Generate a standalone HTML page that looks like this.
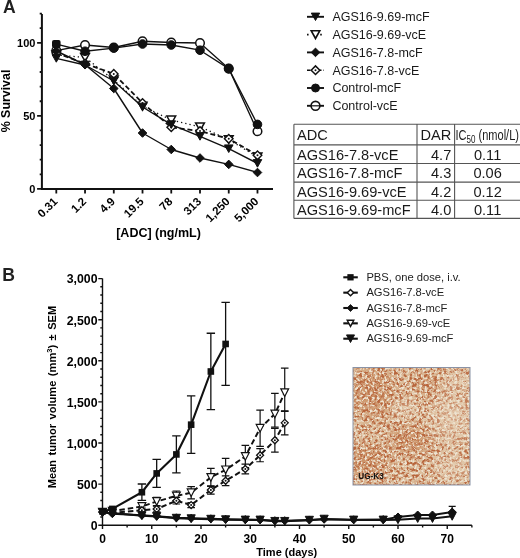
<!DOCTYPE html>
<html lang="en"><head><meta charset="utf-8"><title>Figure</title>
<style>html,body{margin:0;padding:0;background:#fff}body{width:520px;height:558px;position:relative;overflow:hidden;font-family:"Liberation Sans",sans-serif}</style></head>
<body>
<svg width="520" height="558" viewBox="0 0 520 558" style="position:absolute;left:0;top:0">
<defs><filter id="tex" x="0" y="0" width="100%" height="100%" color-interpolation-filters="sRGB"><feTurbulence type="fractalNoise" baseFrequency="0.32" numOctaves="3" seed="11" result="n"/><feColorMatrix in="n" type="matrix" values="0 0 0 0 0.72  0 0 0 0 0.40  0 0 0 0 0.24  4.6 0 0 0 -2.0"/></filter><filter id="texw" x="0" y="0" width="100%" height="100%" color-interpolation-filters="sRGB"><feTurbulence type="fractalNoise" baseFrequency="0.4" numOctaves="3" seed="29" result="n"/><feColorMatrix in="n" type="matrix" values="0 0 0 0 0.93  0 0 0 0 0.89  0 0 0 0 0.82  0 4.4 0 0 -2.1"/></filter><radialGradient id="b1"><stop offset="0" stop-color="#c27a4b" stop-opacity="0.75"/><stop offset="1" stop-color="#c47a45" stop-opacity="0"/></radialGradient><radialGradient id="w1"><stop offset="0" stop-color="#eedfc8" stop-opacity="0.95"/><stop offset="1" stop-color="#efe2cf" stop-opacity="0"/></radialGradient><clipPath id="ic"><rect x="353" y="367.5" width="117" height="117.5"/></clipPath></defs>
<text x="2.9" y="13.3" font-family='"Liberation Sans", sans-serif' font-weight="bold" font-size="17.6" fill="#222">A</text>
<path d="M41.9 14V188.9H273" fill="none" stroke="#111" stroke-width="2" stroke-linejoin="miter"/>
<path d="M37.1 188.90H41.9M39.699999999999996 174.29H41.9M39.699999999999996 159.68H41.9M39.699999999999996 145.07H41.9M39.699999999999996 130.46H41.9M37.1 115.85H41.9M39.699999999999996 101.24H41.9M39.699999999999996 86.63H41.9M39.699999999999996 72.02H41.9M39.699999999999996 57.41H41.9M37.1 42.80H41.9M39.699999999999996 28.19H41.9M39.699999999999996 13.58H41.9M56.30 188.9v4.6M85.04 188.9v4.6M113.78 188.9v4.6M142.52 188.9v4.6M171.26 188.9v4.6M200.00 188.9v4.6M228.74 188.9v4.6M257.48 188.9v4.6" fill="none" stroke="#111" stroke-width="1.8"/>
<text x="35.4" y="192.60" text-anchor="end" font-family='"Liberation Sans", sans-serif' font-weight="bold" font-size="11">0</text>
<text x="35.4" y="119.55" text-anchor="end" font-family='"Liberation Sans", sans-serif' font-weight="bold" font-size="11">50</text>
<text x="35.4" y="46.50" text-anchor="end" font-family='"Liberation Sans", sans-serif' font-weight="bold" font-size="11">100</text>
<text transform="translate(58.20 202.30) rotate(-45)" text-anchor="end" font-family='"Liberation Sans", sans-serif' font-weight="bold" font-size="11.5">0.31</text>
<text transform="translate(86.94 202.30) rotate(-45)" text-anchor="end" font-family='"Liberation Sans", sans-serif' font-weight="bold" font-size="11.5">1.2</text>
<text transform="translate(115.68 202.30) rotate(-45)" text-anchor="end" font-family='"Liberation Sans", sans-serif' font-weight="bold" font-size="11.5">4.9</text>
<text transform="translate(144.42 202.30) rotate(-45)" text-anchor="end" font-family='"Liberation Sans", sans-serif' font-weight="bold" font-size="11.5">19.5</text>
<text transform="translate(173.16 202.30) rotate(-45)" text-anchor="end" font-family='"Liberation Sans", sans-serif' font-weight="bold" font-size="11.5">78</text>
<text transform="translate(201.90 202.30) rotate(-45)" text-anchor="end" font-family='"Liberation Sans", sans-serif' font-weight="bold" font-size="11.5">313</text>
<text transform="translate(230.64 202.30) rotate(-45)" text-anchor="end" font-family='"Liberation Sans", sans-serif' font-weight="bold" font-size="11.5">1,250</text>
<text transform="translate(259.38 202.30) rotate(-45)" text-anchor="end" font-family='"Liberation Sans", sans-serif' font-weight="bold" font-size="11.5">5,000</text>
<text x="116.2" y="236.6" font-family='"Liberation Sans", sans-serif' font-weight="bold" font-size="12.5">[ADC] (ng/mL)</text>
<text transform="translate(10.3 101) rotate(-90)" text-anchor="middle" font-family='"Liberation Sans", sans-serif' font-weight="bold" font-size="12.4">% Survival</text>
<polyline points="56.30,55.00 85.04,57.40 113.78,80.00 142.52,106.20 171.26,120.00 200.00,126.80 228.74,139.60 257.48,157.00" fill="none" stroke="#111" stroke-width="1.3" stroke-dasharray="1.3 3" stroke-linecap="butt" stroke-linejoin="round"/>
<polyline points="56.30,53.00 85.04,63.50 113.78,73.90 142.52,103.00 171.26,127.30 200.00,131.00 228.74,138.75 257.48,155.20" fill="none" stroke="#111" stroke-width="1.8" stroke-dasharray="5 2.8" stroke-linecap="butt" stroke-linejoin="round"/>
<polyline points="56.30,58.40 85.04,65.00 113.78,81.00 142.52,107.00 171.26,124.60 200.00,136.40 228.74,148.70 257.48,163.40" fill="none" stroke="#111" stroke-width="1.4" stroke-linecap="butt" stroke-linejoin="round"/>
<polyline points="56.30,51.00 85.04,64.75 113.78,88.50 142.52,133.00 171.26,149.50 200.00,158.00 228.74,164.40 257.48,172.50" fill="none" stroke="#111" stroke-width="1.4" stroke-linecap="butt" stroke-linejoin="round"/>
<polyline points="56.30,50.60 85.04,45.00 113.78,47.50 142.52,41.25 171.26,42.50 200.00,43.00 228.74,68.60 257.48,131.30" fill="none" stroke="#111" stroke-width="1.3" stroke-linecap="butt" stroke-linejoin="round"/>
<polyline points="56.30,44.10 85.04,51.25 113.78,48.10 142.52,44.00 171.26,45.00 200.00,50.20 228.74,68.60 257.48,124.40" fill="none" stroke="#111" stroke-width="1.3" stroke-linecap="butt" stroke-linejoin="round"/>
<circle cx="56.30" cy="50.60" r="4.3" fill="#fff" stroke="#111" stroke-width="1.5"/>
<circle cx="85.04" cy="45.00" r="4.3" fill="#fff" stroke="#111" stroke-width="1.5"/>
<circle cx="113.78" cy="47.50" r="4.3" fill="#fff" stroke="#111" stroke-width="1.5"/>
<circle cx="142.52" cy="41.25" r="4.3" fill="#fff" stroke="#111" stroke-width="1.5"/>
<circle cx="171.26" cy="42.50" r="4.3" fill="#fff" stroke="#111" stroke-width="1.5"/>
<circle cx="200.00" cy="43.00" r="4.3" fill="#fff" stroke="#111" stroke-width="1.5"/>
<circle cx="228.74" cy="68.60" r="4.3" fill="#fff" stroke="#111" stroke-width="1.5"/>
<circle cx="257.48" cy="131.30" r="4.3" fill="#fff" stroke="#111" stroke-width="1.5"/>
<path d="M51.90 51.10H60.70L56.30 58.90Z" fill="#fff" stroke="#111" stroke-width="1.5" stroke-linejoin="miter"/>
<path d="M80.64 53.50H89.44L85.04 61.30Z" fill="#fff" stroke="#111" stroke-width="1.5" stroke-linejoin="miter"/>
<path d="M109.38 76.10H118.18L113.78 83.90Z" fill="#fff" stroke="#111" stroke-width="1.5" stroke-linejoin="miter"/>
<path d="M138.12 102.30H146.92L142.52 110.10Z" fill="#fff" stroke="#111" stroke-width="1.5" stroke-linejoin="miter"/>
<path d="M166.86 116.10H175.66L171.26 123.90Z" fill="#fff" stroke="#111" stroke-width="1.5" stroke-linejoin="miter"/>
<path d="M195.60 122.90H204.40L200.00 130.70Z" fill="#fff" stroke="#111" stroke-width="1.5" stroke-linejoin="miter"/>
<path d="M224.34 135.70H233.14L228.74 143.50Z" fill="#fff" stroke="#111" stroke-width="1.5" stroke-linejoin="miter"/>
<path d="M253.08 153.10H261.88L257.48 160.90Z" fill="#fff" stroke="#111" stroke-width="1.5" stroke-linejoin="miter"/>
<path d="M52.00 53.00L56.30 48.70L60.60 53.00L56.30 57.30Z" fill="#fff" stroke="#111" stroke-width="1.4"/><circle cx="56.30" cy="53.00" r="1" fill="#111"/>
<path d="M80.74 63.50L85.04 59.20L89.34 63.50L85.04 67.80Z" fill="#fff" stroke="#111" stroke-width="1.4"/><circle cx="85.04" cy="63.50" r="1" fill="#111"/>
<path d="M109.48 73.90L113.78 69.60L118.08 73.90L113.78 78.20Z" fill="#fff" stroke="#111" stroke-width="1.4"/><circle cx="113.78" cy="73.90" r="1" fill="#111"/>
<path d="M138.22 103.00L142.52 98.70L146.82 103.00L142.52 107.30Z" fill="#fff" stroke="#111" stroke-width="1.4"/><circle cx="142.52" cy="103.00" r="1" fill="#111"/>
<path d="M166.96 127.30L171.26 123.00L175.56 127.30L171.26 131.60Z" fill="#fff" stroke="#111" stroke-width="1.4"/><circle cx="171.26" cy="127.30" r="1" fill="#111"/>
<path d="M195.70 131.00L200.00 126.70L204.30 131.00L200.00 135.30Z" fill="#fff" stroke="#111" stroke-width="1.4"/><circle cx="200.00" cy="131.00" r="1" fill="#111"/>
<path d="M224.44 138.75L228.74 134.45L233.04 138.75L228.74 143.05Z" fill="#fff" stroke="#111" stroke-width="1.4"/><circle cx="228.74" cy="138.75" r="1" fill="#111"/>
<path d="M253.18 155.20L257.48 150.90L261.78 155.20L257.48 159.50Z" fill="#fff" stroke="#111" stroke-width="1.4"/><circle cx="257.48" cy="155.20" r="1" fill="#111"/>
<path d="M52.00 54.60H60.60L56.30 62.20Z" fill="#111" stroke="#111" stroke-width="1" stroke-linejoin="miter"/>
<path d="M80.74 61.20H89.34L85.04 68.80Z" fill="#111" stroke="#111" stroke-width="1" stroke-linejoin="miter"/>
<path d="M109.48 77.20H118.08L113.78 84.80Z" fill="#111" stroke="#111" stroke-width="1" stroke-linejoin="miter"/>
<path d="M138.22 103.20H146.82L142.52 110.80Z" fill="#111" stroke="#111" stroke-width="1" stroke-linejoin="miter"/>
<path d="M166.96 120.80H175.56L171.26 128.40Z" fill="#111" stroke="#111" stroke-width="1" stroke-linejoin="miter"/>
<path d="M195.70 132.60H204.30L200.00 140.20Z" fill="#111" stroke="#111" stroke-width="1" stroke-linejoin="miter"/>
<path d="M224.44 144.90H233.04L228.74 152.50Z" fill="#111" stroke="#111" stroke-width="1" stroke-linejoin="miter"/>
<path d="M253.18 159.60H261.78L257.48 167.20Z" fill="#111" stroke="#111" stroke-width="1" stroke-linejoin="miter"/>
<path d="M52.00 51.00L56.30 46.70L60.60 51.00L56.30 55.30Z" fill="#111" stroke="#111" stroke-width="1"/>
<path d="M80.74 64.75L85.04 60.45L89.34 64.75L85.04 69.05Z" fill="#111" stroke="#111" stroke-width="1"/>
<path d="M109.48 88.50L113.78 84.20L118.08 88.50L113.78 92.80Z" fill="#111" stroke="#111" stroke-width="1"/>
<path d="M138.22 133.00L142.52 128.70L146.82 133.00L142.52 137.30Z" fill="#111" stroke="#111" stroke-width="1"/>
<path d="M166.96 149.50L171.26 145.20L175.56 149.50L171.26 153.80Z" fill="#111" stroke="#111" stroke-width="1"/>
<path d="M195.70 158.00L200.00 153.70L204.30 158.00L200.00 162.30Z" fill="#111" stroke="#111" stroke-width="1"/>
<path d="M224.44 164.40L228.74 160.10L233.04 164.40L228.74 168.70Z" fill="#111" stroke="#111" stroke-width="1"/>
<path d="M253.18 172.50L257.48 168.20L261.78 172.50L257.48 176.80Z" fill="#111" stroke="#111" stroke-width="1"/>
<rect x="52.00" y="40.10" width="8.6" height="7.8" rx="2" fill="#111"/>
<circle cx="85.04" cy="51.25" r="4.3" fill="#111" stroke="#111" stroke-width="1"/>
<circle cx="113.78" cy="48.10" r="4.3" fill="#111" stroke="#111" stroke-width="1"/>
<circle cx="142.52" cy="44.00" r="4.3" fill="#111" stroke="#111" stroke-width="1"/>
<circle cx="171.26" cy="45.00" r="4.3" fill="#111" stroke="#111" stroke-width="1"/>
<circle cx="200.00" cy="50.20" r="4.3" fill="#111" stroke="#111" stroke-width="1"/>
<circle cx="228.74" cy="68.60" r="4.3" fill="#111" stroke="#111" stroke-width="1"/>
<circle cx="257.48" cy="124.40" r="4.3" fill="#111" stroke="#111" stroke-width="1"/>
<path d="M307 16.8H324" stroke="#111" stroke-width="1.9"/>
<path d="M311.30 13.10H319.70L315.50 20.50Z" fill="#111" stroke="#111" stroke-width="1" stroke-linejoin="miter"/>
<text x="332.4" y="21.20" font-family='"Liberation Sans", sans-serif' font-size="12.5" fill="#1a1a1a">AGS16-9.69-mcF</text>
<path d="M307 34.6H324" stroke="#111" stroke-width="1.6" stroke-dasharray="1.6 5"/>
<path d="M311.20 30.70H319.80L315.50 38.50Z" fill="#fff" stroke="#111" stroke-width="1.6" stroke-linejoin="miter"/>
<text x="332.4" y="39.00" font-family='"Liberation Sans", sans-serif' font-size="12.5" fill="#1a1a1a">AGS16-9.69-vcE</text>
<path d="M307 52.400000000000006H324" stroke="#111" stroke-width="1.9"/>
<path d="M311.20 52.40L315.50 48.10L319.80 52.40L315.50 56.70Z" fill="#111" stroke="#111" stroke-width="1"/>
<text x="332.4" y="56.80" font-family='"Liberation Sans", sans-serif' font-size="12.5" fill="#1a1a1a">AGS16-7.8-mcF</text>
<path d="M307 70.2H324" stroke="#111" stroke-width="1.5" stroke-dasharray="3.5 2"/>
<path d="M311.20 70.20L315.50 65.90L319.80 70.20L315.50 74.50Z" fill="#fff" stroke="#111" stroke-width="1.5"/><circle cx="315.50" cy="70.20" r="1" fill="#111"/>
<text x="332.4" y="74.60" font-family='"Liberation Sans", sans-serif' font-size="12.5" fill="#1a1a1a">AGS16-7.8-vcE</text>
<path d="M307 88.0H324" stroke="#111" stroke-width="1.9"/>
<circle cx="315.50" cy="88.00" r="4.0" fill="#111" stroke="#111" stroke-width="1"/>
<text x="332.4" y="92.40" font-family='"Liberation Sans", sans-serif' font-size="12.5" fill="#1a1a1a">Control-mcF</text>
<path d="M307 105.8H324" stroke="#111" stroke-width="1.9"/>
<circle cx="315.50" cy="105.80" r="4.4" fill="#fff" stroke="#111" stroke-width="1.6"/><path d="M311.5 105.8H319.5" stroke="#111" stroke-width="1.2"/>
<text x="332.4" y="110.20" font-family='"Liberation Sans", sans-serif' font-size="12.5" fill="#1a1a1a">Control-vcE</text>
<path d="M293.9 124.2H520M293.9 144.9H520M293.9 163.5H520M293.9 182.1H520M293.9 200.3H520M293.9 218.4H520M293.9 124.2V218.4M417 124.2V218.4M454.6 124.2V218.4" fill="none" stroke="#555" stroke-width="1.1"/>
<text x="297" y="139.9" font-family='"Liberation Sans", sans-serif' font-size="14.6" fill="#1a1a1a">ADC</text>
<text x="451.3" y="139.9" text-anchor="end" font-family='"Liberation Sans", sans-serif' font-size="14.6" fill="#1a1a1a">DAR</text>
<text x="297" y="159.5" font-family='"Liberation Sans", sans-serif' font-size="14.6" fill="#1a1a1a">AGS16-7.8-vcE</text>
<text x="451.3" y="159.5" text-anchor="end" font-family='"Liberation Sans", sans-serif' font-size="14.6" fill="#1a1a1a">4.7</text>
<text x="487.6" y="159.5" text-anchor="middle" font-family='"Liberation Sans", sans-serif' font-size="14.6" fill="#1a1a1a">0.11</text>
<text x="297" y="178" font-family='"Liberation Sans", sans-serif' font-size="14.6" fill="#1a1a1a">AGS16-7.8-mcF</text>
<text x="451.3" y="178" text-anchor="end" font-family='"Liberation Sans", sans-serif' font-size="14.6" fill="#1a1a1a">4.3</text>
<text x="487.6" y="178" text-anchor="middle" font-family='"Liberation Sans", sans-serif' font-size="14.6" fill="#1a1a1a">0.06</text>
<text x="297" y="196.8" font-family='"Liberation Sans", sans-serif' font-size="14.6" fill="#1a1a1a">AGS16-9.69-vcE</text>
<text x="451.3" y="196.8" text-anchor="end" font-family='"Liberation Sans", sans-serif' font-size="14.6" fill="#1a1a1a">4.2</text>
<text x="487.6" y="196.8" text-anchor="middle" font-family='"Liberation Sans", sans-serif' font-size="14.6" fill="#1a1a1a">0.12</text>
<text x="297" y="214.9" font-family='"Liberation Sans", sans-serif' font-size="14.6" fill="#1a1a1a">AGS16-9.69-mcF</text>
<text x="451.3" y="214.9" text-anchor="end" font-family='"Liberation Sans", sans-serif' font-size="14.6" fill="#1a1a1a">4.0</text>
<text x="487.6" y="214.9" text-anchor="middle" font-family='"Liberation Sans", sans-serif' font-size="14.6" fill="#1a1a1a">0.11</text>
<text x="455.5" y="139.9" font-family='"Liberation Sans", sans-serif' font-size="13.8" fill="#1a1a1a" textLength="63.5" lengthAdjust="spacingAndGlyphs">IC<tspan font-size="10" dy="3">50</tspan><tspan dy="-3"> (nmol/L)</tspan></text>
<text x="2.3" y="281" font-family='"Liberation Sans", sans-serif' font-weight="bold" font-size="17.6" fill="#222">B</text>
<path d="M102.5 278.60V525.2H471.88" fill="none" stroke="#111" stroke-width="1.4"/>
<path d="M98.3 525.20H102.5M100.3 516.98H102.5M100.3 508.76H102.5M100.3 500.54H102.5M100.3 492.32H102.5M98.3 484.10H102.5M100.3 475.88H102.5M100.3 467.66H102.5M100.3 459.44H102.5M100.3 451.22H102.5M98.3 443.00H102.5M100.3 434.78H102.5M100.3 426.56H102.5M100.3 418.34H102.5M100.3 410.12H102.5M98.3 401.90H102.5M100.3 393.68H102.5M100.3 385.46H102.5M100.3 377.24H102.5M100.3 369.02H102.5M98.3 360.80H102.5M100.3 352.58H102.5M100.3 344.36H102.5M100.3 336.14H102.5M100.3 327.92H102.5M98.3 319.70H102.5M100.3 311.48H102.5M100.3 303.26H102.5M100.3 295.04H102.5M100.3 286.82H102.5M98.3 278.60H102.5M102.50 525.2v3.7M127.12 525.2v2.3M151.75 525.2v3.7M176.38 525.2v2.3M201.00 525.2v3.7M225.62 525.2v2.3M250.25 525.2v3.7M274.88 525.2v2.3M299.50 525.2v3.7M324.12 525.2v2.3M348.75 525.2v3.7M373.38 525.2v2.3M398.00 525.2v3.7M422.62 525.2v2.3M447.25 525.2v3.7M471.88 525.2v2.3" fill="none" stroke="#111" stroke-width="1.4"/>
<text x="97.5" y="530.00" text-anchor="end" font-family='"Liberation Sans", sans-serif' font-weight="bold" font-size="12.3">0</text>
<text x="97.5" y="488.90" text-anchor="end" font-family='"Liberation Sans", sans-serif' font-weight="bold" font-size="12.3">500</text>
<text x="97.5" y="447.80" text-anchor="end" font-family='"Liberation Sans", sans-serif' font-weight="bold" font-size="12.3">1,000</text>
<text x="97.5" y="406.70" text-anchor="end" font-family='"Liberation Sans", sans-serif' font-weight="bold" font-size="12.3">1,500</text>
<text x="97.5" y="365.60" text-anchor="end" font-family='"Liberation Sans", sans-serif' font-weight="bold" font-size="12.3">2,000</text>
<text x="97.5" y="324.50" text-anchor="end" font-family='"Liberation Sans", sans-serif' font-weight="bold" font-size="12.3">2,500</text>
<text x="97.5" y="283.40" text-anchor="end" font-family='"Liberation Sans", sans-serif' font-weight="bold" font-size="12.3">3,000</text>
<text x="102.50" y="543.1" text-anchor="middle" font-family='"Liberation Sans", sans-serif' font-weight="bold" font-size="12">0</text>
<text x="151.75" y="543.1" text-anchor="middle" font-family='"Liberation Sans", sans-serif' font-weight="bold" font-size="12">10</text>
<text x="201.00" y="543.1" text-anchor="middle" font-family='"Liberation Sans", sans-serif' font-weight="bold" font-size="12">20</text>
<text x="250.25" y="543.1" text-anchor="middle" font-family='"Liberation Sans", sans-serif' font-weight="bold" font-size="12">30</text>
<text x="299.50" y="543.1" text-anchor="middle" font-family='"Liberation Sans", sans-serif' font-weight="bold" font-size="12">40</text>
<text x="348.75" y="543.1" text-anchor="middle" font-family='"Liberation Sans", sans-serif' font-weight="bold" font-size="12">50</text>
<text x="398.00" y="543.1" text-anchor="middle" font-family='"Liberation Sans", sans-serif' font-weight="bold" font-size="12">60</text>
<text x="447.25" y="543.1" text-anchor="middle" font-family='"Liberation Sans", sans-serif' font-weight="bold" font-size="12">70</text>
<text x="256.3" y="555.6" font-family='"Liberation Sans", sans-serif' font-weight="bold" font-size="11">Time (days)</text>
<text transform="translate(55.8 397) rotate(-90)" text-anchor="middle" font-family='"Liberation Sans", sans-serif' font-weight="bold" font-size="11.1" word-spacing="1.4">Mean tumor volume (mm<tspan font-size="7.5" dy="-4">3</tspan><tspan dy="4">) ± SEM</tspan></text>
<path d="M112.35 508.68V509.17M108.15 508.68h8.4M108.15 509.17h8.4" fill="none" stroke="#111" stroke-width="1.3"/>
<path d="M141.90 484.02V500.46M137.70 484.02h8.4M137.70 500.46h8.4" fill="none" stroke="#111" stroke-width="1.3"/>
<path d="M156.68 459.44V487.39M152.48 459.44h8.4M152.48 487.39h8.4" fill="none" stroke="#111" stroke-width="1.3"/>
<path d="M176.38 435.93V472.92M172.18 435.93h8.4M172.18 472.92h8.4" fill="none" stroke="#111" stroke-width="1.3"/>
<path d="M191.15 395.90V453.44M186.95 395.90h8.4M186.95 453.44h8.4" fill="none" stroke="#111" stroke-width="1.3"/>
<path d="M210.85 333.26V409.71M206.65 333.26h8.4M206.65 409.71h8.4" fill="none" stroke="#111" stroke-width="1.3"/>
<path d="M225.62 302.44V385.46M221.43 302.44h8.4M221.43 385.46h8.4" fill="none" stroke="#111" stroke-width="1.3"/>
<path d="M141.90 503.17V509.75M138.10 503.17h7.6M138.10 509.75h7.6" fill="none" stroke="#111" stroke-width="1.2"/>
<path d="M156.68 497.33V505.55M152.88 497.33h7.6M152.88 505.55h7.6" fill="none" stroke="#111" stroke-width="1.2"/>
<path d="M176.38 491.00V500.87M172.57 491.00h7.6M172.57 500.87h7.6" fill="none" stroke="#111" stroke-width="1.2"/>
<path d="M191.15 486.57V498.90M187.35 486.57h7.6M187.35 498.90h7.6" fill="none" stroke="#111" stroke-width="1.2"/>
<path d="M210.85 468.32V486.40M207.05 468.32h7.6M207.05 486.40h7.6" fill="none" stroke="#111" stroke-width="1.2"/>
<path d="M225.62 458.29V481.31M221.82 458.29h7.6M221.82 481.31h7.6" fill="none" stroke="#111" stroke-width="1.2"/>
<path d="M245.32 445.38V467.58M241.52 445.38h7.6M241.52 467.58h7.6" fill="none" stroke="#111" stroke-width="1.2"/>
<path d="M260.10 410.12V446.29M256.30 410.12h7.6M256.30 446.29h7.6" fill="none" stroke="#111" stroke-width="1.2"/>
<path d="M274.88 393.43V427.14M271.07 393.43h7.6M271.07 427.14h7.6" fill="none" stroke="#111" stroke-width="1.2"/>
<path d="M284.73 368.03V411.44M280.93 368.03h7.6M280.93 411.44h7.6" fill="none" stroke="#111" stroke-width="1.2"/>
<path d="M141.90 508.18V512.29M138.10 508.18h7.6M138.10 512.29h7.6" fill="none" stroke="#111" stroke-width="1.2"/>
<path d="M156.68 506.13V511.88M152.88 506.13h7.6M152.88 511.88h7.6" fill="none" stroke="#111" stroke-width="1.2"/>
<path d="M176.38 497.42V503.99M172.57 497.42h7.6M172.57 503.99h7.6" fill="none" stroke="#111" stroke-width="1.2"/>
<path d="M191.15 502.60V507.53M187.35 502.60h7.6M187.35 507.53h7.6" fill="none" stroke="#111" stroke-width="1.2"/>
<path d="M210.85 485.91V494.13M207.05 485.91h7.6M207.05 494.13h7.6" fill="none" stroke="#111" stroke-width="1.2"/>
<path d="M225.62 475.80V485.66M221.82 475.80h7.6M221.82 485.66h7.6" fill="none" stroke="#111" stroke-width="1.2"/>
<path d="M245.32 464.04V473.91M241.52 464.04h7.6M241.52 473.91h7.6" fill="none" stroke="#111" stroke-width="1.2"/>
<path d="M260.10 448.59V461.74M256.30 448.59h7.6M256.30 461.74h7.6" fill="none" stroke="#111" stroke-width="1.2"/>
<path d="M274.88 428.29V452.12M271.07 428.29h7.6M271.07 452.12h7.6" fill="none" stroke="#111" stroke-width="1.2"/>
<path d="M284.73 410.94V434.78M280.93 410.94h7.6M280.93 434.78h7.6" fill="none" stroke="#111" stroke-width="1.2"/>
<path d="M452.18 506.29V512.05M448.68 506.29h7.0" fill="none" stroke="#111" stroke-width="1.3"/>
<polyline points="102.50,512.05 112.35,511.23 141.90,506.46 156.68,501.44 176.38,495.94 191.15,492.73 210.85,477.36 225.62,469.80 245.32,456.48 260.10,428.20 274.88,413.98 284.73,392.69" fill="none" stroke="#111" stroke-width="2" stroke-dasharray="5.5 3" stroke-linecap="butt" stroke-linejoin="round"/>
<polyline points="102.50,512.05 112.35,512.87 141.90,510.24 156.68,509.01 176.38,500.70 191.15,505.06 210.85,490.02 225.62,480.73 245.32,468.98 260.10,455.17 274.88,440.21 284.73,422.86" fill="none" stroke="#111" stroke-width="2" stroke-dasharray="5.5 3" stroke-linecap="butt" stroke-linejoin="round"/>
<polyline points="102.50,511.47 112.35,508.92 141.90,492.24 156.68,473.41 176.38,454.43 191.15,424.67 210.85,371.49 225.62,343.95" fill="none" stroke="#111" stroke-width="2.1" stroke-linecap="butt" stroke-linejoin="round"/>
<polyline points="102.50,512.05 112.35,513.69 141.90,515.34 156.68,516.16 176.38,517.80 191.15,518.30 210.85,518.79 225.62,519.28 245.32,519.61 260.10,519.77 274.88,520.68 284.73,520.68 309.35,519.94 324.12,519.28 353.67,519.77 383.22,519.61 398.00,516.98 417.70,515.01 432.47,515.01 452.18,512.05" fill="none" stroke="#111" stroke-width="2" stroke-linecap="butt" stroke-linejoin="round"/>
<polyline points="102.50,512.46 112.35,513.03 141.90,515.66 156.68,516.49 176.38,518.21 191.15,518.71 210.85,519.20 225.62,519.69 245.32,520.02 260.10,520.02 274.88,521.34 284.73,521.34 309.35,520.19 324.12,519.12 353.67,520.02 383.22,520.02 398.00,519.77 417.70,518.54 432.47,518.54 452.18,516.32" fill="none" stroke="#111" stroke-width="2" stroke-linecap="butt" stroke-linejoin="round"/>
<path d="M98.60 508.25H106.40L102.50 515.85Z" fill="#fff" stroke="#111" stroke-width="1.2" stroke-linejoin="miter"/>
<path d="M108.45 507.43H116.25L112.35 515.03Z" fill="#fff" stroke="#111" stroke-width="1.2" stroke-linejoin="miter"/>
<path d="M138.00 502.66H145.80L141.90 510.26Z" fill="#fff" stroke="#111" stroke-width="1.2" stroke-linejoin="miter"/>
<path d="M152.78 497.64H160.58L156.68 505.24Z" fill="#fff" stroke="#111" stroke-width="1.2" stroke-linejoin="miter"/>
<path d="M172.47 492.14H180.28L176.38 499.74Z" fill="#fff" stroke="#111" stroke-width="1.2" stroke-linejoin="miter"/>
<path d="M187.25 488.93H195.05L191.15 496.53Z" fill="#fff" stroke="#111" stroke-width="1.2" stroke-linejoin="miter"/>
<path d="M206.95 473.56H214.75L210.85 481.16Z" fill="#fff" stroke="#111" stroke-width="1.2" stroke-linejoin="miter"/>
<path d="M221.72 466.00H229.53L225.62 473.60Z" fill="#fff" stroke="#111" stroke-width="1.2" stroke-linejoin="miter"/>
<path d="M241.42 452.68H249.22L245.32 460.28Z" fill="#fff" stroke="#111" stroke-width="1.2" stroke-linejoin="miter"/>
<path d="M256.20 424.40H264.00L260.10 432.00Z" fill="#fff" stroke="#111" stroke-width="1.2" stroke-linejoin="miter"/>
<path d="M270.98 410.18H278.77L274.88 417.78Z" fill="#fff" stroke="#111" stroke-width="1.2" stroke-linejoin="miter"/>
<path d="M280.83 388.89H288.62L284.73 396.49Z" fill="#fff" stroke="#111" stroke-width="1.2" stroke-linejoin="miter"/>
<path d="M99.00 512.05L102.50 508.55L106.00 512.05L102.50 515.55Z" fill="#fff" stroke="#111" stroke-width="1.3"/><circle cx="102.50" cy="512.05" r="1" fill="#111"/>
<path d="M108.85 512.87L112.35 509.37L115.85 512.87L112.35 516.37Z" fill="#fff" stroke="#111" stroke-width="1.3"/><circle cx="112.35" cy="512.87" r="1" fill="#111"/>
<path d="M138.40 510.24L141.90 506.74L145.40 510.24L141.90 513.74Z" fill="#fff" stroke="#111" stroke-width="1.3"/><circle cx="141.90" cy="510.24" r="1" fill="#111"/>
<path d="M153.18 509.01L156.68 505.51L160.18 509.01L156.68 512.51Z" fill="#fff" stroke="#111" stroke-width="1.3"/><circle cx="156.68" cy="509.01" r="1" fill="#111"/>
<path d="M172.88 500.70L176.38 497.20L179.88 500.70L176.38 504.20Z" fill="#fff" stroke="#111" stroke-width="1.3"/><circle cx="176.38" cy="500.70" r="1" fill="#111"/>
<path d="M187.65 505.06L191.15 501.56L194.65 505.06L191.15 508.56Z" fill="#fff" stroke="#111" stroke-width="1.3"/><circle cx="191.15" cy="505.06" r="1" fill="#111"/>
<path d="M207.35 490.02L210.85 486.52L214.35 490.02L210.85 493.52Z" fill="#fff" stroke="#111" stroke-width="1.3"/><circle cx="210.85" cy="490.02" r="1" fill="#111"/>
<path d="M222.12 480.73L225.62 477.23L229.12 480.73L225.62 484.23Z" fill="#fff" stroke="#111" stroke-width="1.3"/><circle cx="225.62" cy="480.73" r="1" fill="#111"/>
<path d="M241.82 468.98L245.32 465.48L248.82 468.98L245.32 472.48Z" fill="#fff" stroke="#111" stroke-width="1.3"/><circle cx="245.32" cy="468.98" r="1" fill="#111"/>
<path d="M256.60 455.17L260.10 451.67L263.60 455.17L260.10 458.67Z" fill="#fff" stroke="#111" stroke-width="1.3"/><circle cx="260.10" cy="455.17" r="1" fill="#111"/>
<path d="M271.38 440.21L274.88 436.71L278.38 440.21L274.88 443.71Z" fill="#fff" stroke="#111" stroke-width="1.3"/><circle cx="274.88" cy="440.21" r="1" fill="#111"/>
<path d="M281.23 422.86L284.73 419.36L288.23 422.86L284.73 426.36Z" fill="#fff" stroke="#111" stroke-width="1.3"/><circle cx="284.73" cy="422.86" r="1" fill="#111"/>
<rect x="99.20" y="508.17" width="6.6" height="6.6" fill="#111"/>
<rect x="109.05" y="505.62" width="6.6" height="6.6" fill="#111"/>
<rect x="138.60" y="488.94" width="6.6" height="6.6" fill="#111"/>
<rect x="153.38" y="470.11" width="6.6" height="6.6" fill="#111"/>
<rect x="173.07" y="451.13" width="6.6" height="6.6" fill="#111"/>
<rect x="187.85" y="421.37" width="6.6" height="6.6" fill="#111"/>
<rect x="207.55" y="368.19" width="6.6" height="6.6" fill="#111"/>
<rect x="222.32" y="340.65" width="6.6" height="6.6" fill="#111"/>
<path d="M98.50 512.05L102.50 508.05L106.50 512.05L102.50 516.05Z" fill="#111" stroke="#111" stroke-width="1"/>
<path d="M108.35 513.69L112.35 509.69L116.35 513.69L112.35 517.69Z" fill="#111" stroke="#111" stroke-width="1"/>
<path d="M137.90 515.34L141.90 511.34L145.90 515.34L141.90 519.34Z" fill="#111" stroke="#111" stroke-width="1"/>
<path d="M152.68 516.16L156.68 512.16L160.68 516.16L156.68 520.16Z" fill="#111" stroke="#111" stroke-width="1"/>
<path d="M172.38 517.80L176.38 513.80L180.38 517.80L176.38 521.80Z" fill="#111" stroke="#111" stroke-width="1"/>
<path d="M187.15 518.30L191.15 514.30L195.15 518.30L191.15 522.30Z" fill="#111" stroke="#111" stroke-width="1"/>
<path d="M206.85 518.79L210.85 514.79L214.85 518.79L210.85 522.79Z" fill="#111" stroke="#111" stroke-width="1"/>
<path d="M221.62 519.28L225.62 515.28L229.62 519.28L225.62 523.28Z" fill="#111" stroke="#111" stroke-width="1"/>
<path d="M241.32 519.61L245.32 515.61L249.32 519.61L245.32 523.61Z" fill="#111" stroke="#111" stroke-width="1"/>
<path d="M256.10 519.77L260.10 515.77L264.10 519.77L260.10 523.77Z" fill="#111" stroke="#111" stroke-width="1"/>
<path d="M270.88 520.68L274.88 516.68L278.88 520.68L274.88 524.68Z" fill="#111" stroke="#111" stroke-width="1"/>
<path d="M280.73 520.68L284.73 516.68L288.73 520.68L284.73 524.68Z" fill="#111" stroke="#111" stroke-width="1"/>
<path d="M305.35 519.94L309.35 515.94L313.35 519.94L309.35 523.94Z" fill="#111" stroke="#111" stroke-width="1"/>
<path d="M320.12 519.28L324.12 515.28L328.12 519.28L324.12 523.28Z" fill="#111" stroke="#111" stroke-width="1"/>
<path d="M349.67 519.77L353.67 515.77L357.67 519.77L353.67 523.77Z" fill="#111" stroke="#111" stroke-width="1"/>
<path d="M379.22 519.61L383.22 515.61L387.22 519.61L383.22 523.61Z" fill="#111" stroke="#111" stroke-width="1"/>
<path d="M394.00 516.98L398.00 512.98L402.00 516.98L398.00 520.98Z" fill="#111" stroke="#111" stroke-width="1"/>
<path d="M413.70 515.01L417.70 511.01L421.70 515.01L417.70 519.01Z" fill="#111" stroke="#111" stroke-width="1"/>
<path d="M428.47 515.01L432.47 511.01L436.47 515.01L432.47 519.01Z" fill="#111" stroke="#111" stroke-width="1"/>
<path d="M448.18 512.05L452.18 508.05L456.18 512.05L452.18 516.05Z" fill="#111" stroke="#111" stroke-width="1"/>
<path d="M98.40 508.56H106.60L102.50 516.36Z" fill="#111" stroke="#111" stroke-width="1" stroke-linejoin="miter"/>
<path d="M108.25 509.13H116.45L112.35 516.93Z" fill="#111" stroke="#111" stroke-width="1" stroke-linejoin="miter"/>
<path d="M137.80 511.76H146.00L141.90 519.56Z" fill="#111" stroke="#111" stroke-width="1" stroke-linejoin="miter"/>
<path d="M152.58 512.59H160.78L156.68 520.39Z" fill="#111" stroke="#111" stroke-width="1" stroke-linejoin="miter"/>
<path d="M172.28 514.31H180.47L176.38 522.11Z" fill="#111" stroke="#111" stroke-width="1" stroke-linejoin="miter"/>
<path d="M187.05 514.81H195.25L191.15 522.61Z" fill="#111" stroke="#111" stroke-width="1" stroke-linejoin="miter"/>
<path d="M206.75 515.30H214.95L210.85 523.10Z" fill="#111" stroke="#111" stroke-width="1" stroke-linejoin="miter"/>
<path d="M221.53 515.79H229.72L225.62 523.59Z" fill="#111" stroke="#111" stroke-width="1" stroke-linejoin="miter"/>
<path d="M241.22 516.12H249.42L245.32 523.92Z" fill="#111" stroke="#111" stroke-width="1" stroke-linejoin="miter"/>
<path d="M256.00 516.12H264.20L260.10 523.92Z" fill="#111" stroke="#111" stroke-width="1" stroke-linejoin="miter"/>
<path d="M270.77 517.44H278.98L274.88 525.24Z" fill="#111" stroke="#111" stroke-width="1" stroke-linejoin="miter"/>
<path d="M280.62 517.44H288.83L284.73 525.24Z" fill="#111" stroke="#111" stroke-width="1" stroke-linejoin="miter"/>
<path d="M305.25 516.29H313.45L309.35 524.09Z" fill="#111" stroke="#111" stroke-width="1" stroke-linejoin="miter"/>
<path d="M320.02 515.22H328.23L324.12 523.02Z" fill="#111" stroke="#111" stroke-width="1" stroke-linejoin="miter"/>
<path d="M349.57 516.12H357.77L353.67 523.92Z" fill="#111" stroke="#111" stroke-width="1" stroke-linejoin="miter"/>
<path d="M379.12 516.12H387.32L383.22 523.92Z" fill="#111" stroke="#111" stroke-width="1" stroke-linejoin="miter"/>
<path d="M393.90 515.87H402.10L398.00 523.67Z" fill="#111" stroke="#111" stroke-width="1" stroke-linejoin="miter"/>
<path d="M413.60 514.64H421.80L417.70 522.44Z" fill="#111" stroke="#111" stroke-width="1" stroke-linejoin="miter"/>
<path d="M428.37 514.64H436.57L432.47 522.44Z" fill="#111" stroke="#111" stroke-width="1" stroke-linejoin="miter"/>
<path d="M448.07 512.42H456.28L452.18 520.22Z" fill="#111" stroke="#111" stroke-width="1" stroke-linejoin="miter"/>
<path d="M343.3 277.30H357.8" stroke="#111" stroke-width="2.1"/>
<rect x="347.35" y="274.15" width="6.3" height="6.3" fill="#111"/>
<text x="366.4" y="281.00" font-family='"Liberation Sans", sans-serif' font-size="11.2" fill="#222">PBS, one dose, i.v.</text>
<path d="M343.3 292.65H357.8" stroke="#111" stroke-width="2.1"/>
<path d="M347.30 292.65L350.50 289.45L353.70 292.65L350.50 295.85Z" fill="#fff" stroke="#111" stroke-width="1.4"/>
<text x="366.4" y="296.35" font-family='"Liberation Sans", sans-serif' font-size="11.2" fill="#222">AGS16-7.8-vcE</text>
<path d="M343.3 308.00H357.8" stroke="#111" stroke-width="2.1"/>
<path d="M347.00 308.00L350.50 304.50L354.00 308.00L350.50 311.50Z" fill="#111" stroke="#111" stroke-width="0.8"/>
<text x="366.4" y="311.70" font-family='"Liberation Sans", sans-serif' font-size="11.2" fill="#222">AGS16-7.8-mcF</text>
<path d="M343.3 323.35H357.8" stroke="#111" stroke-width="2.1"/>
<path d="M347.20 320.25H353.80L350.50 326.45Z" fill="#fff" stroke="#111" stroke-width="1.4" stroke-linejoin="miter"/>
<text x="366.4" y="327.05" font-family='"Liberation Sans", sans-serif' font-size="11.2" fill="#222">AGS16-9.69-vcE</text>
<path d="M343.3 338.70H357.8" stroke="#111" stroke-width="2.1"/>
<path d="M346.50 334.90H354.50L350.50 342.50Z" fill="#111" stroke="#111" stroke-width="1" stroke-linejoin="miter"/>
<text x="366.4" y="342.40" font-family='"Liberation Sans", sans-serif' font-size="11.2" fill="#222">AGS16-9.69-mcF</text>
<g clip-path="url(#ic)"><rect x="353" y="367.5" width="117" height="117.5" fill="#dcbd9b"/><ellipse cx="372" cy="392" rx="34" ry="36" fill="url(#b1)"/><ellipse cx="410" cy="440" rx="30" ry="22" fill="url(#b1)"/><ellipse cx="368" cy="462" rx="30" ry="26" fill="url(#b1)"/><ellipse cx="425" cy="385" rx="22" ry="16" fill="url(#b1)" opacity="0.6"/><rect x="353" y="367.5" width="117" height="117.5" filter="url(#tex)"/><ellipse cx="452" cy="418" rx="30" ry="40" fill="url(#w1)" opacity="0.55"/><ellipse cx="455" cy="380" rx="20" ry="14" fill="url(#w1)" opacity="0.4"/><ellipse cx="452" cy="468" rx="24" ry="20" fill="url(#w1)" opacity="0.5"/><ellipse cx="405" cy="408" rx="20" ry="14" fill="url(#w1)" opacity="0.4"/><rect x="353" y="367.5" width="117" height="117.5" filter="url(#texw)"/></g><rect x="353" y="367.5" width="117" height="117.5" fill="none" stroke="#8a93a6" stroke-width="1"/>
<text x="358.3" y="478.5" font-family='"Liberation Sans", sans-serif' font-weight="bold" font-size="8.2" fill="#111">UG-K3</text>
</svg>
</body></html>
